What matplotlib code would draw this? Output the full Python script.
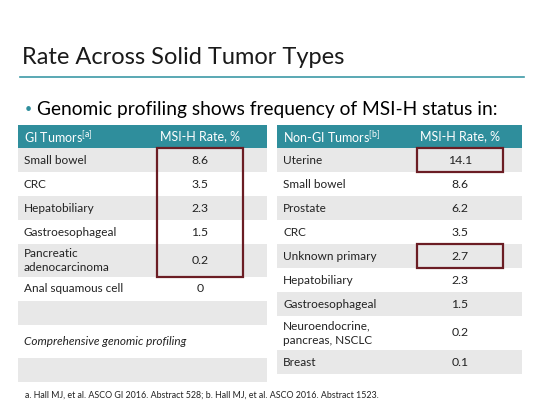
import matplotlib
matplotlib.use('Agg')
import matplotlib.pyplot as plt
from matplotlib.patches import Rectangle

plt.rcParams['font.family'] = ['Lato', 'DejaVu Sans']
plt.rcParams['mathtext.fontset'] = 'custom'
plt.rcParams['mathtext.rm'] = 'Lato'

TITLE = 'Rate Across Solid Tumor Types'
BULLET = 'Genomic profiling shows frequency of MSI-H status in:'
FOOTNOTE = ('a. Hall MJ, et al. ASCO GI 2016. Abstract 528; '
            'b. Hall MJ, et al. ASCO 2016. Abstract 1523.')

gi_header = ['GI Tumors', '[a]', 'MSI-H Rate, %']
gi_names = ['Small bowel', 'CRC', 'Hepatobiliary', 'Gastroesophageal',
            'Pancreatic\nadenocarcinoma', 'Anal squamous cell', '',
            'Comprehensive genomic profiling', '']
gi_rates = [8.6, 3.5, 2.3, 1.5, 0.2, 0, None, None, None]
gi_boxed = [[0, 4]]

ngi_header = ['Non-GI Tumors', '[b]', 'MSI-H Rate, %']
ngi_names = ['Uterine', 'Small bowel', 'Prostate', 'CRC', 'Unknown primary',
             'Hepatobiliary', 'Gastroesophageal',
             'Neuroendocrine,\npancreas, NSCLC', 'Breast']
ngi_rates = [14.1, 8.6, 6.2, 3.5, 2.7, 2.3, 1.5, 0.2, 0.1]
ngi_boxed = [[0, 0], [4, 4]]

TEAL = '#2f8e9c'
GREY = '#e8e8e8'
BOXRED = '#6b1d24'
INK = '#222222'

fig = plt.figure(figsize=(5.4, 4.05), dpi=100)
ax = fig.add_axes([0, 0, 1, 1])
ax.set_xlim(0, 540)
ax.set_ylim(405, 0)
ax.axis('off')

# title + rule + bullet
ax.text(22, 57, TITLE, fontsize=17, color='#1a1a1a', va='center', ha='left')
ax.plot([20, 524], [77, 77], color='#3d9aa7', lw=1.2)
ax.text(25, 109, '\u2022', fontsize=9, color=TEAL, va='center', ha='left')
ax.text(37, 110, BULLET, fontsize=13.8, color='black', va='center', ha='left')


def draw_table(x0, x1, vx0, vx1, header, names, rates, heights, boxed):
    top = 125
    ax.add_patch(Rectangle((x0, top), x1 - x0, 23, color=TEAL, lw=0))
    ax.text(x0 + 6, top + 11.5, header[0] + r'$^{\mathrm{' + header[1] + '}}$',
            fontsize=9, color='white', va='center', ha='left')
    vc = (vx0 + vx1) / 2
    ax.text(vc, top + 11.5, header[2], fontsize=9, color='white',
            va='center', ha='center')
    ys = [top + 23]
    for h in heights:
        ys.append(ys[-1] + h)
    for i, (nm, r) in enumerate(zip(names, rates)):
        y, h = ys[i], heights[i]
        if i % 2 == 0:
            ax.add_patch(Rectangle((x0, y), x1 - x0, h, color=GREY, lw=0))
        style = 'italic' if nm.startswith('Comprehensive') else 'normal'
        ax.text(x0 + 6, y + h / 2, nm, fontsize=8.5, color=INK, va='center',
                ha='left', style=style, linespacing=1.35)
        if r is not None:
            ax.text(vc, y + h / 2, f'{r:g}', fontsize=8.8, color=INK,
                    va='center', ha='center')
    for a, b in boxed:
        ax.add_patch(Rectangle((vx0, ys[a]), vx1 - vx0, ys[b + 1] - ys[a],
                               fill=False, ec=BOXRED, lw=1.6, zorder=5))


draw_table(18, 267, 157, 243, gi_header, gi_names, gi_rates,
           [24, 24, 24, 24, 33, 24, 24, 33, 24], gi_boxed)
draw_table(277, 522, 417, 503, ngi_header, ngi_names, ngi_rates,
           [24, 24, 24, 24, 24, 24, 24, 34, 24], ngi_boxed)

ax.text(25, 395, FOOTNOTE, fontsize=6.4, color=INK, va='center', ha='left')

fig.savefig('out.png', dpi=100)
